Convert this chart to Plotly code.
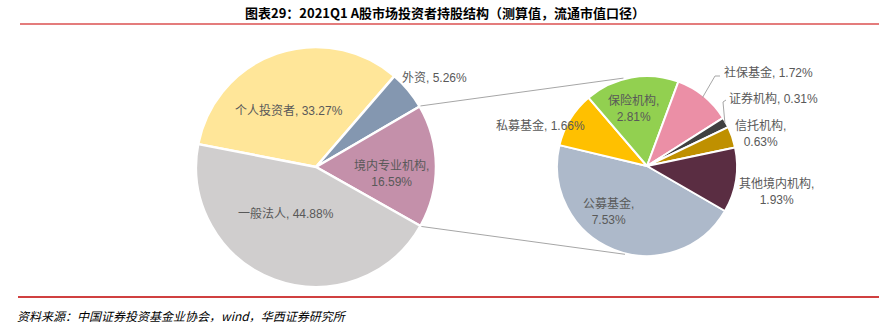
import math
import plotly.graph_objects as go

# ---------------- data ----------------
left_labels = ["个人投资者", "外资", "境内专业机构", "一般法人"]
left_values = [33.27, 5.26, 16.59, 44.88]
left_colors = ["#ffe699", "#8497b0", "#c490aa", "#d0cece"]

right_labels = ["公募基金", "私募基金", "保险机构", "社保基金", "证券机构", "信托机构", "其他境内机构"]
right_values = [7.53, 1.66, 2.81, 1.72, 0.31, 0.63, 1.93]
right_colors = ["#adb9ca", "#ffc000", "#92d050", "#eb8fa6", "#404040", "#bf9000", "#5a2d42"]

title_text = "图表29：2021Q1 A股市场投资者持股结构（测算值，流通市值口径）"
source_text = "资料来源：中国证券投资基金业协会，wind，华西证券研究所"

# ---------------- layout geometry (px) ----------------
W, H = 879, 328
LC, LR, LROT = (316, 167), 120, 281
RC, RR, RROT = (647, 166), 90, 120

def px_to_paper(x, y):
    return x / W, 1 - y / H

def domain(c, r):
    return dict(x=[(c[0] - r) / W, (c[0] + r) / W], y=[1 - (c[1] + r) / H, 1 - (c[1] - r) / H])

FONT = "Liberation Sans, Arial, Noto Sans CJK SC, sans-serif"
TXT = "#595959"

fig = go.Figure()
fig.add_trace(go.Pie(labels=left_labels, values=left_values, sort=False, direction="clockwise",
                     rotation=LROT, domain=domain(LC, LR), textinfo="none", hoverinfo="label+value",
                     marker=dict(colors=left_colors, line=dict(color="white", width=2.5)),
                     showlegend=False))
fig.add_trace(go.Pie(labels=right_labels, values=right_values, sort=False, direction="clockwise",
                     rotation=RROT, domain=domain(RC, RR), textinfo="none", hoverinfo="label+value",
                     marker=dict(colors=right_colors, line=dict(color="white", width=2)),
                     showlegend=False))

def pt(c, r, ang):
    a = math.radians(ang)
    return c[0] + r * math.sin(a), c[1] - r * math.cos(a)

tot = sum(left_values)
cum = [sum(left_values[:i + 1]) for i in range(len(left_values))]
a_top = LROT + 360 * cum[1] / tot       # 外资 / 境内专业机构 boundary
a_bot = LROT + 360 * cum[2] / tot       # 境内专业机构 / 一般法人 boundary

shapes = []
for a_l, a_r in [(a_top, 345), (a_bot, 194)]:
    x0, y0 = pt(LC, LR + 1, a_l)
    x1, y1 = pt(RC, RR + 1, a_r)
    p0 = px_to_paper(x0, y0); p1 = px_to_paper(x1, y1)
    shapes.append(dict(type="line", xref="paper", yref="paper", x0=p0[0], y0=p0[1], x1=p1[0], y1=p1[1],
                       line=dict(color="#a6a6a6", width=1)))

# leader lines for small slices
rtot = sum(right_values)
rcum = [sum(right_values[:i + 1]) for i in range(len(right_values))]
def mid_angle(i):
    start = rcum[i - 1] if i > 0 else 0
    return RROT + 360 * (start + right_values[i] / 2) / rtot

# 社保基金
sx, sy = pt(RC, RR - 2, mid_angle(3))
for seg in [((sx, sy), (715, 76)), ((715, 76), (720, 76))]:
    a = px_to_paper(*seg[0]); b = px_to_paper(*seg[1])
    shapes.append(dict(type="line", xref="paper", yref="paper", x0=a[0], y0=a[1], x1=b[0], y1=b[1],
                       line=dict(color="#a6a6a6", width=1)))
# 证券机构
sx, sy = pt(RC, RR - 1, mid_angle(4))
for seg in [((sx, sy), (723, 102)), ((723, 102), (726, 100))]:
    a = px_to_paper(*seg[0]); b = px_to_paper(*seg[1])
    shapes.append(dict(type="line", xref="paper", yref="paper", x0=a[0], y0=a[1], x1=b[0], y1=b[1],
                       line=dict(color="#a6a6a6", width=1)))

# title & source rules
for (x0, x1, y, col, w) in [(20, 879, 24, "#e47c7c", 2), (18, 879, 297, "#c00000", 1.5)]:
    a = px_to_paper(x0, y); b = px_to_paper(x1, y)
    shapes.append(dict(type="line", xref="paper", yref="paper", x0=a[0], y0=a[1], x1=b[0], y1=b[1],
                       line=dict(color=col, width=w)))

annotations = []
def ann(text, x, y, xanchor="center", size=12, color=TXT, font=FONT):
    px, py = px_to_paper(x, y)
    annotations.append(dict(text=text, x=px, y=py, xref="paper", yref="paper", xanchor=xanchor,
                            yanchor="middle", showarrow=False, align="center" if xanchor == "center" else "left",
                            font=dict(family=font, size=size, color=color)))

def lab(name, v):
    return f"{name}, {v:.2f}%"

# left pie labels
ann(lab(left_labels[0], left_values[0]), 289, 110)
ann(lab(left_labels[1], left_values[1]), 400, 78, xanchor="left")
ann(f"{left_labels[2]},<br>{left_values[2]:.2f}%", 391, 173)
ann(lab(left_labels[3], left_values[3]), 286, 213)

# right pie labels
ann(f"{right_labels[0]},<br>{right_values[0]:.2f}%", 608, 211)
ann(lab(right_labels[1], right_values[1]), 540, 125)
ann(f"{right_labels[2]},<br>{right_values[2]:.2f}%", 633, 109)
ann(lab(right_labels[3], right_values[3]), 722, 73, xanchor="left")
ann(lab(right_labels[4], right_values[4]), 727, 98, xanchor="left")
ann(f"{right_labels[5]},<br>{right_values[5]:.2f}%", 760, 134)
ann(f"{right_labels[6]},<br>{right_values[6]:.2f}%", 776, 191)

# title & source
ann(f"<b>{title_text}</b>", 445, 12, size=13, color="#000000", font="Noto Sans CJK SC, sans-serif")
ann(f"<i>{source_text}</i>", 15, 315, xanchor="left", size=12, color="#000000", font="Noto Sans CJK SC, sans-serif")

fig.update_layout(width=W, height=H, margin=dict(l=0, r=0, t=0, b=0),
                  paper_bgcolor="white", plot_bgcolor="white",
                  shapes=shapes, annotations=annotations)

fig.write_html("out.html")
